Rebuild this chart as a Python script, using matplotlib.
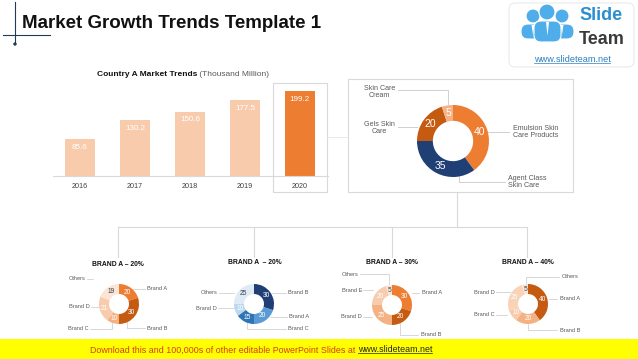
import matplotlib
matplotlib.use('Agg')
import matplotlib.pyplot as plt
from matplotlib.patches import Rectangle, Circle, FancyBboxPatch, Polygon

plt.rcParams['font.family'] = ['Liberation Sans', 'DejaVu Sans']

# ---------------- data ----------------
years = ['2016', '2017', '2018', '2019', '2020']
market = [85.6, 130.2, 150.6, 177.5, 199.2]

segments = ['Emulsion Skin\nCare Products', 'Agent Class\nSkin Care', 'Gels Skin\nCare', 'Skin Care\nCream']
segment_share = [40, 35, 20, 5]

brand_titles = ['BRAND A \u2013 20%', 'BRAND A  \u2013 20%', 'BRAND A \u2013 30%', 'BRAND A \u2013 40%']
brand1_names = ['Brand A', 'Brand B', 'Brand C', 'Brand D', 'Others']
brand1_vals = [20, 30, 10, 21, 19]
brand2_names = ['Brand B', 'Brand A', 'Brand C', 'Brand D', 'Others']
brand2_vals = [30, 20, 15, 10, 25]
brand3_names = ['Brand A', 'Brand B', 'Brand D', 'Brand E', 'Others']
brand3_vals = [30, 20, 25, 20, 5]
brand4_names = ['Brand A', 'Brand B', 'Brand C', 'Brand D', 'Others']
brand4_vals = [40, 20, 10, 25, 5]

# ---------------- figure ----------------
W, H = 638, 359
fig = plt.figure(figsize=(W / 100, H / 100), dpi=100)
ov = fig.add_axes([0, 0, 1, 1])
ov.set_xlim(0, W)
ov.set_ylim(H, 0)
ov.axis('off')


def pax(x0, y0, x1, y1):
    return fig.add_axes([x0 / W, 1 - y1 / H, (x1 - x0) / W, (y1 - y0) / H])


LINE = '#C8C8C8'
TXT = '#595959'

# title + corner cross
ov.text(22, 23, 'Market Growth Trends Template 1', fontsize=13.5, fontweight='bold',
        va='center', ha='left', color='#111111')
ov.plot([15, 15], [2, 43], color='#1F3A5A', lw=0.8)
ov.plot([3, 50], [35, 35], color='#1F3A5A', lw=0.8)
ov.add_patch(Circle((15, 44), 1.0, color='#1F3A5A'))

# logo
ov.add_patch(FancyBboxPatch((509, 3), 125, 64, boxstyle='round,pad=0,rounding_size=6',
                            fc='white', ec='#E4E4E4', lw=0.6))
blue = '#4FAEEA'
for (hx, hy, hr), (bx0, by0, bw, bh) in [((533, 16, 7), (521, 24, 24, 15)),
                                          ((562, 16, 7), (550, 24, 24, 15)),
                                          ((547, 12, 8), (534, 21, 27, 21))]:
    ov.add_patch(FancyBboxPatch((bx0, by0), bw, bh, boxstyle='round,pad=0,rounding_size=7',
                                fc=blue, ec='white', lw=0.8))
    ov.add_patch(Circle((hx, hy), hr, fc=blue, ec='white', lw=0.8))
    cx = bx0 + bw / 2
    ov.add_patch(Polygon([(cx - 1.5, by0 + 1), (cx + 1.5, by0 + 1), (cx, by0 + bh * 0.7)],
                         closed=True, fc='white', ec='none'))
ov.text(579, 16, 'Slide', fontsize=13, fontweight='bold', color='#2A8FD0', va='center', ha='left')
ov.text(579, 40, 'Team', fontsize=13, fontweight='bold', color='#3A3A3A', va='center', ha='left')
url = ov.text(572, 60, 'www.slideteam.net', fontsize=6.6, color='#2A7FC0', va='center', ha='center')

# ---------------- bar chart ----------------
axb = pax(52.5, 83, 327.5, 176)
xpos = list(range(len(years)))
bar_colors = ['#F8CBAD'] * (len(years) - 1) + ['#ED7D31']
axb.bar(xpos, market, width=0.56, color=bar_colors)
axb.set_xlim(-0.5, len(years) - 0.5)
axb.set_ylim(0, 217.2)
for s in ['top', 'left', 'right']:
    axb.spines[s].set_visible(False)
axb.spines['bottom'].set_color('#D9D9D9')
axb.spines['bottom'].set_linewidth(0.8)
axb.set_yticks([])
axb.set_xticks(xpos, years)
axb.tick_params(axis='x', length=0, labelsize=5.2, colors='#404040', pad=5)
axb.patch.set_alpha(0)
for i, v in enumerate(market):
    axb.annotate(f'{v}', (i, v), xytext=(0, -6), textcoords='offset points',
                 ha='center', va='center', color='white', fontsize=5.8)

ov.add_patch(Rectangle((273, 83), 54, 109, fill=False, ec='#D9D9D9', lw=0.8))
t1 = ov.text(97, 75, 'Country A Market Trends', fontsize=6, fontweight='bold',
             va='center', ha='left', color='#111111')
ov.annotate(' (Thousand Million)', xy=(1, 0), xycoords=t1, va='bottom', ha='left',
            fontsize=6, color='#595959')

# ---------------- main donut ----------------
ov.add_patch(Rectangle((348, 79), 225, 113, fill=False, ec='#D9D9D9', lw=0.8))
ov.plot([327, 348], [137, 137], color='#E6E6E6', lw=0.6)
axd = pax(453 - 36, 141 - 36, 453 + 36, 141 + 36)
wedges, texts = axd.pie(segment_share, labels=[str(v) for v in segment_share],
                        colors=['#ED7D31', '#1F3F75', '#C55A11', '#F4B183'],
                        startangle=90, counterclock=False, labeldistance=0.78,
                        wedgeprops=dict(width=0.44, edgecolor='none'),
                        textprops=dict(color='white', fontsize=7.5, ha='center', va='center'))
axd.set_xlim(-1, 1)
axd.set_ylim(-1, 1)

main_layout = {
    'Emulsion Skin\nCare Products': ((513, 132), 'left', [(488, 132), (509, 132)]),
    'Agent Class\nSkin Care': ((508, 182), 'left', [(459, 175), (459, 182), (505, 182)]),
    'Gels Skin\nCare': ((395, 128), 'right', [(398, 127), (417, 127)]),
    'Skin Care\nCream': ((395, 92), 'right', [(398, 90), (448, 90), (448, 104)]),
}
for name in segments:
    (tx, ty), ha, pts = main_layout[name]
    ov.plot([p[0] for p in pts], [p[1] for p in pts], color=LINE, lw=0.6)
    ov.text(tx, ty, name, fontsize=5.1, color=TXT, ha=ha, va='center',
            multialignment='center' if ha == 'right' else 'left', linespacing=1.15)

# tree connectors
ov.plot([457, 457], [192, 227], color='#D9D9D9', lw=0.8)
ov.plot([118, 527], [227, 227], color='#D9D9D9', lw=0.8)
for xd in [118, 254, 392, 527]:
    ov.plot([xd, xd], [227, 257], color='#D9D9D9', lw=0.8)

# ---------------- brand donuts ----------------
donuts = [
    dict(names=brand1_names, vals=brand1_vals, c=(119, 304), title=(118, 265),
         colors=['#ED7D31', '#C55A11', '#F4B183', '#F8CBAD', '#FBE5D6'],
         tcol=['white', 'white', 'white', 'white', '#404040'],
         layout={'Others': ((86, 279), 'right', [(87, 279), (93, 279)]),
                 'Brand A': ((147, 289), 'left', [(133, 289), (145, 289)]),
                 'Brand B': ((147, 328), 'left', [(127, 321), (127, 328), (145, 328)]),
                 'Brand C': ((89, 329), 'right', [(90, 329), (112, 329), (112, 322)]),
                 'Brand D': ((90, 307), 'right', [(91, 307), (99, 307)])}),
    dict(names=brand2_names, vals=brand2_vals, c=(254, 304), title=(255, 263),
         colors=['#1F3F75', '#5B9BD5', '#2E75B6', '#BDD7EE', '#DEEBF7'],
         tcol=['white', 'white', 'white', 'white', '#404040'],
         layout={'Others': ((218, 293), 'right', [(219, 293), (234, 293)]),
                 'Brand B': ((288, 293), 'left', [(272, 293), (286, 293)]),
                 'Brand A': ((289, 317), 'left', [(270, 317), (287, 317)]),
                 'Brand C': ((288, 329), 'left', [(247, 321), (247, 329), (286, 329)]),
                 'Brand D': ((217, 308), 'right', [(218, 308), (234, 308)])}),
    dict(names=brand3_names, vals=brand3_vals, c=(392, 305), title=(392, 263),
         colors=['#ED7D31', '#C55A11', '#F4B183', '#F8CBAD', '#FBE5D6'],
         tcol=['white', 'white', 'white', 'white', '#404040'],
         layout={'Others': ((359, 274), 'right', [(360, 274), (389, 274), (389, 284)]),
                 'Brand E': ((362, 290), 'right', [(363, 290), (373, 290)]),
                 'Brand D': ((362, 317), 'right', [(363, 317), (372, 317)]),
                 'Brand A': ((422, 293), 'left', [(412, 293), (419, 293)]),
                 'Brand B': ((421, 335), 'left', [(400, 323), (400, 335), (418, 335)])}),
    dict(names=brand4_names, vals=brand4_vals, c=(528, 304), title=(528, 263),
         colors=['#C55A11', '#F4B183', '#F8CBAD', '#F9D3B8', '#FBE5D6'],
         tcol=['white', 'white', 'white', 'white', '#404040'],
         layout={'Others': ((562, 277), 'left', [(526, 284), (526, 277), (559, 277)]),
                 'Brand A': ((560, 299), 'left', [(549, 299), (557, 299)]),
                 'Brand B': ((560, 330), 'left', [(528, 324), (528, 330), (557, 330)]),
                 'Brand C': ((495, 315), 'right', [(496, 315), (507, 315)]),
                 'Brand D': ((495, 292), 'right', [(496, 292), (510, 292)])}),
]

for d, ttl in zip(donuts, brand_titles):
    cx, cy = d['c']
    r = 20
    for name in d['names']:
        (tx, ty), ha, pts = d['layout'][name]
        ov.plot([p[0] for p in pts], [p[1] for p in pts], color=LINE, lw=0.5)
        ov.text(tx, ty, name, fontsize=4.1, color=TXT, ha=ha, va='center')
    ov.text(d['title'][0], d['title'][1], ttl, fontsize=4.9, fontweight='bold',
            color='#111111', ha='center', va='center')
    ax = pax(cx - r, cy - r, cx + r, cy + r)
    w, ts = ax.pie(d['vals'], labels=[str(v) for v in d['vals']], colors=d['colors'],
                   startangle=90, counterclock=False, labeldistance=0.74,
                   wedgeprops=dict(width=0.5, edgecolor='none'),
                   textprops=dict(fontsize=4.8, ha='center', va='center'))
    for t, col in zip(ts, d['tcol']):
        t.set_color(col)
    ax.set_xlim(-1, 1)
    ax.set_ylim(-1, 1)

# ---------------- banner ----------------
ov.add_patch(Rectangle((0, 339), W, 20, fc='#FFFF00', ec='none'))
bt = ov.text(90, 350, 'Download this and 100,000s of other editable PowerPoint Slides at ',
             fontsize=6.4, color='#D9381E', va='center', ha='left')
link = ov.annotate('www.slideteam.net', xy=(1, 0), xycoords=bt, va='bottom', ha='left',
                   fontsize=6.4, color='#262626')

fig.canvas.draw()
rend = fig.canvas.get_renderer()
inv = ov.transData.inverted()
for t, col in [(link, '#262626'), (url, '#2A7FC0')]:
    bb = t.get_window_extent(rend)
    (x0, y0), (x1, y1) = inv.transform([(bb.x0, bb.y0), (bb.x1, bb.y1)])
    yl = y0 - (y0 - y1) * 0.22
    ov.plot([x0, x1], [yl, yl], color=col, lw=0.5)

fig.savefig('out.png', dpi=100)
